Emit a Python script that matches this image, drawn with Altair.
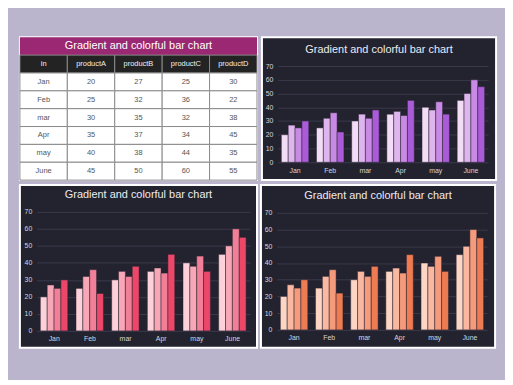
import altair as alt
import pandas as pd

months = ["Jan", "Feb", "mar", "Apr", "may", "June"]
products = ["productA", "productB", "productC", "productD"]
values_a = [20, 25, 30, 35, 40, 45]
values_b = [27, 32, 35, 37, 38, 50]
values_c = [25, 36, 32, 34, 44, 60]
values_d = [30, 22, 38, 45, 35, 55]
y_ticks = [0, 10, 20, 30, 40, 50, 60, 70]
title_text = "Gradient and colorful bar chart"
header = ["in"] + products

purple = ["#f3ddf6", "#dfb5ee", "#c98ae5", "#a95bd8"]
pink = ["#fdd1d9", "#f8a7b6", "#f27f98", "#ec4669"]
orange = ["#fcd5c4", "#f9b89f", "#f59a7b", "#ef7b52"]

FONT = "Liberation Sans"
PANEL = "#23222f"

series = [values_a, values_b, values_c, values_d]
rows = []
for p, vals in zip(products, series):
    for m, v in zip(months, vals):
        rows.append({"month": m, "product": p, "value": v})
df = pd.DataFrame(rows)

# table data
cells = []
for c in header:
    cells.append({"row": "in", "col": c, "text": c})
for i, m in enumerate(months):
    rowvals = [m] + [str(s[i]) for s in series]
    for c, t in zip(header, rowvals):
        cells.append({"row": m, "col": c, "text": t})
cells_df = pd.DataFrame(cells)
row_order = ["title", "in"] + months


def bar_panel(colors, w, h, xr, yr, title_y):
    bars = alt.Chart(df).mark_bar(stroke="#2a2433", strokeWidth=0.5).encode(
        x=alt.X("month:N", sort=months,
                scale=alt.Scale(range=xr, paddingInner=0.22, paddingOuter=0.1),
                axis=alt.Axis(title=None, labelAngle=0, domain=False, ticks=False,
                              tickSize=0, grid=False, labelColor="#d6d6de",
                              labelFontSize=7, labelPadding=4, labelFont=FONT,
                              offset=-(h - yr[0]))),
        xOffset=alt.XOffset("product:N", sort=products,
                            scale=alt.Scale(paddingInner=0, paddingOuter=0)),
        y=alt.Y("value:Q",
                scale=alt.Scale(domain=[0, 70], range=yr, nice=False, zero=True),
                axis=alt.Axis(title=None, values=y_ticks, domain=False, ticks=False,
                              tickSize=0, grid=True, gridColor="#3b3a4b",
                              gridWidth=1, labelColor="#d6d6de", labelFontSize=7,
                              labelPadding=5, labelFont=FONT, offset=-xr[0])),
        color=alt.Color("product:N", sort=products,
                        scale=alt.Scale(domain=products, range=colors), legend=None),
    )
    title = alt.Chart(pd.DataFrame({"t": [title_text]})).mark_text(
        font=FONT, fontSize=11, color="#ececf2", baseline="middle", align="center"
    ).encode(text="t:N", x=alt.value(w / 2), y=alt.value(title_y))
    return alt.layer(bars, title).properties(
        width=w, height=h,
        view=alt.ViewBackground(fill=PANEL, stroke="#ffffff", strokeWidth=2),
    )


# table panel
TW, TH = 239, 144
yscale = alt.Scale(domain=row_order, paddingInner=0, paddingOuter=0)
xscale = alt.Scale(domain=header, paddingInner=0, paddingOuter=0)
title_df = pd.DataFrame({"row": ["title"], "t": [title_text]})
title_rect = alt.Chart(title_df).mark_rect(fill="#9a2872").encode(
    y=alt.Y("row:N", scale=yscale, axis=None)
)
title_txt = alt.Chart(title_df).mark_text(
    font=FONT, fontSize=11, color="#ffffff", align="center", baseline="middle"
).encode(y=alt.Y("row:N", scale=yscale, axis=None), text="t:N", x=alt.value(TW / 2))

base_cells = alt.Chart(cells_df)
head_rect = base_cells.transform_filter(alt.datum.row == "in").mark_rect(
    fill="#232323", stroke="#8a8a8a", strokeWidth=1
).encode(
    x=alt.X("col:N", sort=header, scale=xscale, axis=None),
    y=alt.Y("row:N", scale=yscale, axis=None),
)
body_rect = base_cells.transform_filter(alt.datum.row != "in").mark_rect(
    fill="#ffffff", stroke="#8a8a8a", strokeWidth=1
).encode(
    x=alt.X("col:N", sort=header, scale=xscale, axis=None),
    y=alt.Y("row:N", scale=yscale, axis=None),
)
head_txt = base_cells.transform_filter(alt.datum.row == "in").mark_text(
    font=FONT, fontSize=7.5, align="center", baseline="middle", color="#f0f0f0"
).encode(
    x=alt.X("col:N", sort=header, scale=xscale, axis=None),
    y=alt.Y("row:N", scale=yscale, axis=None),
    text="text:N",
)
body_txt = base_cells.transform_filter(alt.datum.row != "in").mark_text(
    font=FONT, fontSize=7.5, align="center", baseline="middle", color="#555555"
).encode(
    x=alt.X("col:N", sort=header, scale=xscale, axis=None),
    y=alt.Y("row:N", scale=yscale, axis=None),
    text="text:N",
)
table = alt.layer(title_rect, head_rect, body_rect, title_txt, head_txt, body_txt).properties(
    width=TW, height=TH,
    view=alt.ViewBackground(fill="#ffffff", stroke="#ffffff", strokeWidth=2),
)

tr = bar_panel(purple, 236, 144, [16, 228], [126, 29], 13)
bl = bar_panel(pink, 239, 164, [17, 232], [147, 27], 10)
br = bar_panel(orange, 236, 164, [16, 228], [146, 28], 11)

chart = alt.vconcat(
    alt.hconcat(table, tr, spacing=2).resolve_scale(color="independent"),
    alt.hconcat(bl, br, spacing=2).resolve_scale(color="independent"),
    spacing=2,
).resolve_scale(color="independent").properties(
    background="#bab5cc",
    padding={"left": 10, "top": 27, "right": 8, "bottom": 30},
).configure(font=FONT)

chart.save("out.html", embed_options={"renderer": "svg", "actions": False})
